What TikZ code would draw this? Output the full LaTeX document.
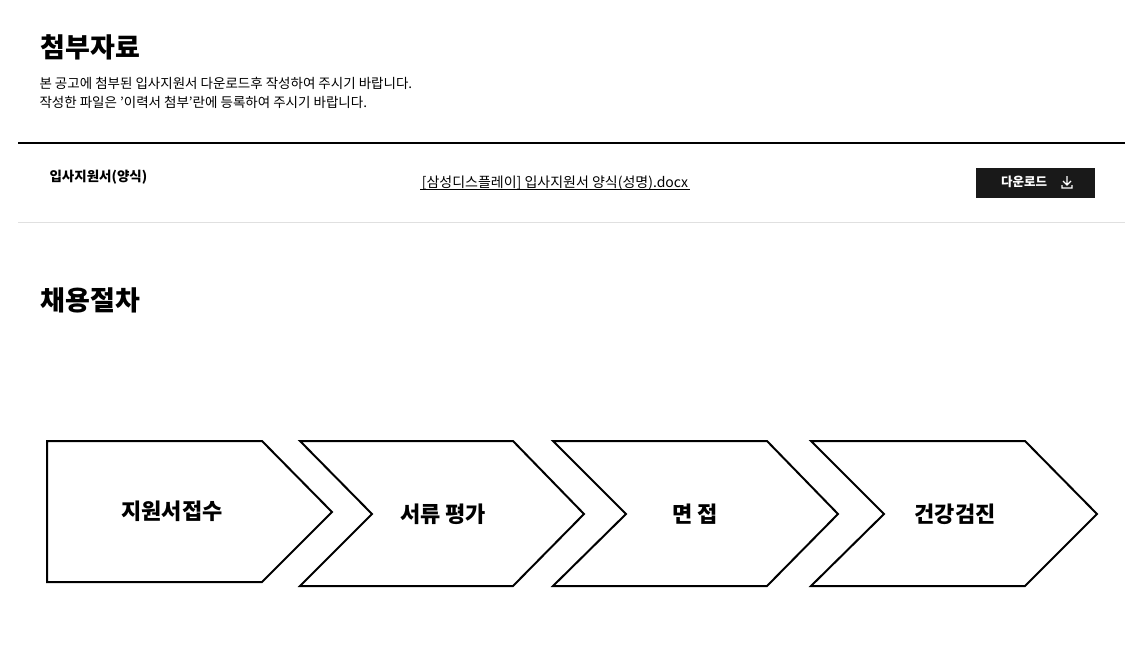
\documentclass[tikz,border=0pt]{standalone}
\usepackage{fontspec}
\setmainfont{Noto Sans CJK KR}
\begin{document}
\begin{tikzpicture}[x=1pt,y=-1pt,
  chev/.style={draw=black,line width=2pt,fill=white,line join=miter},
  steplabel/.style={font=\fontsize{22}{26}\selectfont\bfseries},
  body/.style={font=\fontsize{13.5}{16}\selectfont,anchor=west}]
\useasboundingbox (0,0) rectangle (1146,648);
\node[anchor=west,font=\fontsize{27}{32}\selectfont\bfseries] (t1) at (37,47) {첨부자료};
\node[body] (l1) at (36,83) {본 공고에 첨부된 입사지원서 다운로드후 작성하여 주시기 바랍니다.};
\node[body] (l2) at (36,102) {작성한 파일은 '이력서 첨부'란에 등록하여 주시기 바랍니다.};
\draw[line width=1.8pt] (18,143) -- (1125,143);
\node[anchor=west,font=\fontsize{13.5}{16}\selectfont\bfseries] (f1) at (46,177) {입사지원서(양식)};
\node[font=\fontsize{14}{17}\selectfont] (lnk) at (555,183) {[삼성디스플레이] 입사지원서 양식(성명).docx};
\draw[line width=0.7pt] (lnk.south west)++(2,-4) -- ([xshift=-2pt,yshift=4pt]lnk.south east);
\node[fill=black!90,minimum width=119pt,minimum height=30pt,inner sep=0] (btn) at (1035.5,183) {};
\node[text=white,font=\fontsize{12.5}{15}\selectfont\bfseries] (bt) at (1024,182) {다운로드};
\draw[white,line width=1.2pt] (1067,176)--(1067,185) (1063,181)--(1067,185)--(1071,181) (1062,185)--(1062,188)--(1072,188)--(1072,185);
\draw[black!12,line width=0.8pt] (18,222) -- (1125,222);
\node[anchor=west,font=\fontsize{27}{32}\selectfont\bfseries] (t2) at (37,300) {채용절차};
\draw[chev] (47,441)--(262,441)--(332,512)--(262,582)--(47,582)--cycle;
\draw[chev] (300,441)--(513,441)--(584,514)--(513,586)--(300,586)--(372,514)--cycle;
\draw[chev] (553,441)--(767,441)--(838,514)--(767,586)--(553,586)--(626,514)--cycle;
\draw[chev] (811,441)--(1025,441)--(1097,514)--(1025,586)--(811,586)--(884,514)--cycle;
\node[steplabel] (s1) at (172,511) {지원서접수};
\node[steplabel] (s2) at (443,514) {서류 평가};
\node[steplabel] (s3) at (695,514) {면 접};
\node[steplabel] (s4) at (955,514) {건강검진};
\end{tikzpicture}
\end{document}
